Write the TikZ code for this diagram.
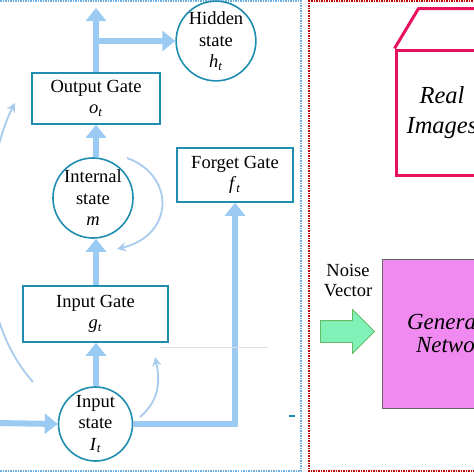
\documentclass[tikz,border=0pt]{standalone}
\usepackage{fontspec}
\setmainfont{Liberation Serif}
\usepackage{tikz}
\usetikzlibrary{positioning,arrows.meta,shapes.arrows}

\definecolor{gateline}{HTML}{1E8DB0}
\definecolor{flow}{HTML}{9BCBF2}
\definecolor{thinflow}{HTML}{A8CBEE}
\definecolor{realpink}{HTML}{E8115F}
\definecolor{genfill}{HTML}{F08AF0}
\definecolor{noisefill}{HTML}{80F2B8}

\newcommand{\gatevar}[2]{\textit{#1}\textsubscript{\textit{#2}}}

\tikzset{
  gatebox/.style={draw=gateline,line width=1.6pt,fill=white,align=center,inner sep=0pt,
    font=\fontsize{18.5}{21}\selectfont},
  statecircle/.style={circle,draw=gateline,line width=1.6pt,fill=white,align=center,inner sep=0pt,
    font=\fontsize{18.5}{21.5}\selectfont},
  thick flow/.style={draw=flow,line width=6pt,-{Triangle[length=13pt,width=20pt]}},
  thin flow/.style={draw=thinflow,line width=1.8pt,-{Stealth[length=9pt,width=9pt]}},
}

\begin{document}
\begin{tikzpicture}[x=1pt,y=-1pt]
  \useasboundingbox (0,0) rectangle (474,474);
  \clip (0,0) rectangle (474,474);

  %frames
  \draw[densely dotted,line width=1.5pt,color=cyan!70!blue!60] (-5,1) -- (301,1) -- (301,471) -- (-5,471);
  \draw[densely dotted,line width=1.5pt,color=red!75!black] (480,1) -- (309,1) -- (309,471) -- (480,471);

  %lstm cell
  \node[statecircle,minimum size=78pt] (ht) at (216,41) {Hidden\\state\\\gatevar{h}{t}};
  \node[gatebox,minimum width=128pt,minimum height=51pt] (ot) at (96,98.5) {Output Gate\\\gatevar{o}{t}};
  \node[gatebox,minimum width=116pt,minimum height=54pt] (ft) at (235,175) {Forget Gate\\\gatevar{f}{t}};
  \node[statecircle,minimum size=70pt] (m) at (93,198) {Internal\\state\\\textit{m}};
  \node[gatebox,minimum width=145pt,minimum height=56pt] (gt) at (95.5,314) {Input Gate\\\gatevar{g}{t}};
  \node[statecircle,minimum size=74pt] (It) at (95.5,424) {Input\\state\\\gatevar{I}{t}};
  \coordinate (top) at (96,8);
  \coordinate (in) at (-5,423);

  %It>gt>m>ot
  \draw[thick flow] (ot.south |- It.north) -- (ot.south |- gt.south);
  \draw[thick flow] (ot.south |- gt.north) -- (ot.south |- m.south);
  \draw[thick flow] (ot.south |- m.north) -- (ot.south);
  %ot>ht
  \draw[thick flow] (ot.north) -- (top);
  \draw[thick flow] (ot.north |- ht.west) -- (ht.west);
  %in>It>ft
  \draw[thick flow] (in) -- (It.west);
  \draw[thick flow] (It.east) -| (ft.south);

  %loops
  \draw[thin flow] (127,158) .. controls (175,175) and (175,235) .. (117,249);
  \draw[thin flow] (140,417) .. controls (160,400) and (160,380) .. (155,357);
  \draw[thin flow] (33,382) .. controls (-40,300) and (-10,150) .. (15,103);
  \draw[line width=0.8pt,color=black!12] (160,347) -- (268,347);
  \draw[line width=1.5pt,color=gateline] (289,416) -- (295,416);

  %gan side
  \node[draw=realpink,line width=3pt,minimum width=92pt,minimum height=125pt,inner sep=0pt,align=center,
    font=\fontsize{24.5}{30}\selectfont\itshape] (real) at (442,112.5) {Real\\Images};
  \draw[realpink,line width=3pt,line join=round] (real.north west) -- ++(24,-40) -- ++(92,0) -- (real.north east);
  \node[draw=black!60,fill=genfill,line width=0.8pt,minimum width=146pt,minimum height=149pt,inner sep=0pt,align=center,
    font=\fontsize{23}{23}\selectfont\itshape] (gen) at (455,333.5) {Generator\\Network};
  \node[align=center,font=\fontsize{18.5}{20}\selectfont] (noise) at (348,281) {Noise\\Vector};
  \node[single arrow,draw=black!45!green!60,fill=noisefill,line width=0.8pt,minimum height=54pt,
    inner xsep=0pt,inner ysep=10.5pt,single arrow head extend=11pt] (noisearrow) at (342,331.5) {};
\end{tikzpicture}
\end{document}
